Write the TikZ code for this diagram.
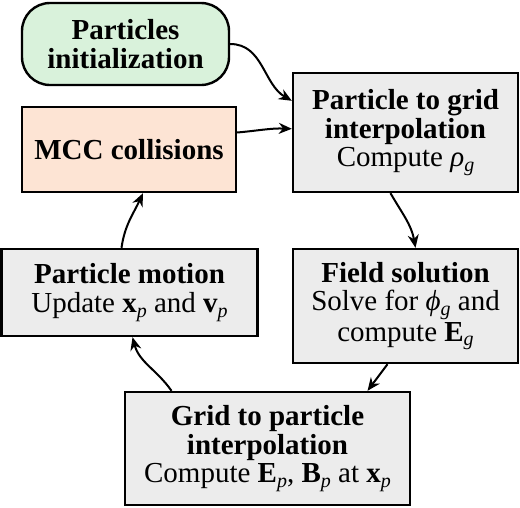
\documentclass[tikz,border=0pt]{standalone}
\usepackage{fontspec}
\setmainfont{Liberation Serif}
\usetikzlibrary{calc, arrows.meta}

\definecolor{initgreen}{RGB}{217,242,219}
\definecolor{mccpeach}{RGB}{253,228,212}
\definecolor{stepgray}{RGB}{236,236,236}
\newcommand{\lowsub}[1]{\raisebox{-0.35ex}{\fontsize{20}{20}\selectfont\itshape #1}}

\begin{document}
\begin{tikzpicture}[x=1pt, y=-1pt,
		box/.style = {draw, line width=2.4pt, fill=stepgray, align=center, inner sep=0pt, font=\fontsize{29}{28.5}\selectfont},
		flow/.style = {-{Stealth[length=13pt, width=11pt]}, line width=2pt}]
		\useasboundingbox (0,0) rectangle (520,507);
		
		\node [box, fill=initgreen, rounded corners=28pt, minimum width=207pt, minimum height=82pt] (init) at (125.5,44) {\textbf{Particles}\\\textbf{initialization}};
		\node [box, fill=mccpeach, minimum width=214pt, minimum height=85pt] (mcc) at (129,149.5) {\textbf{MCC collisions}};
		\node [box, minimum width=225pt, minimum height=119pt] (ptog) at (405.5,132.5) {\textbf{Particle to grid}\\\textbf{interpolation}\\Compute \textit{ρ}\lowsub{g}};
		\node [box, minimum width=225pt, minimum height=114pt] (field) at (405.5,306) {\textbf{Field solution}\\Solve for \textit{ϕ}\lowsub{g} and\\[2pt]compute \textbf{E}\lowsub{g}};
		\node [box, minimum width=256pt, minimum height=87pt] (motion) at (129.5,292.5) {\textbf{Particle motion}\\Update \textbf{x}\lowsub{p} and \textbf{v}\lowsub{p}};
		\node [box, minimum width=285pt, minimum height=113pt] (gtop) at (267.5,448.5) {\textbf{Grid to particle}\\\textbf{interpolation}\\Compute \textbf{E}\lowsub{p}, \textbf{B}\lowsub{p} at \textbf{x}\lowsub{p}};
		
		\draw [flow] (init.east) to [out=0, in=150] ([yshift=-29pt]ptog.north west);
		\draw [flow] ([yshift=17pt]mcc.east) to [out=5, in=178] ([yshift=-57pt]ptog.north west);
		\draw [flow] ([xshift=-15pt]ptog.south) to [out=-60, in=100] ([xshift=10pt]field.north);
		\draw [flow] ([xshift=-18pt]field.south) -- ([xshift=100pt]gtop.north);
		\draw [flow] ([xshift=-96pt]gtop.north) to [out=125, in=-75] ([xshift=3pt]motion.south);
		\draw [flow] ([xshift=-8pt]motion.north) to [out=82, in=-115] ([xshift=14pt]mcc.south);
	\end{tikzpicture}
\end{document}
